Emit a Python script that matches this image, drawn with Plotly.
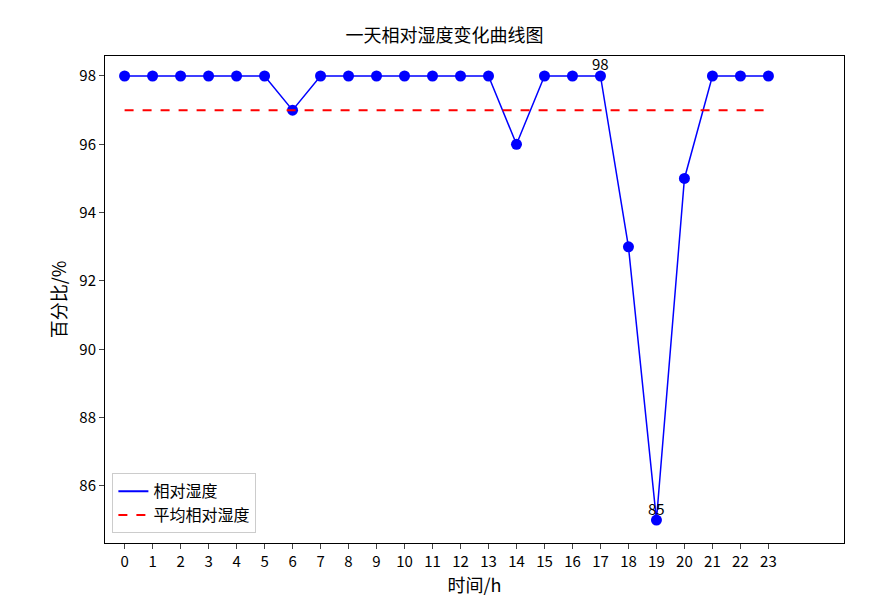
import plotly.graph_objects as go

hours = list(range(24))
humidity = [98, 98, 98, 98, 98, 98, 97, 98, 98, 98, 98, 98,
            98, 98, 96, 98, 98, 98, 93, 85, 95, 98, 98, 98]
mean_h = sum(humidity) / len(humidity)
font = 'Noto Sans CJK SC'

fig = go.Figure()
fig.add_trace(go.Scatter(x=hours, y=humidity, mode='lines+markers', showlegend=False,
                         line=dict(color='blue', width=1.5),
                         marker=dict(color='blue', size=11)))
# legend entry drawn as a plain line, like the original
fig.add_trace(go.Scatter(x=[None], y=[None], mode='lines', name='相对湿度',
                         line=dict(color='blue', width=2)))
fig.add_trace(go.Scatter(x=hours, y=[mean_h] * len(hours), mode='lines', name='平均相对湿度',
                         line=dict(color='red', width=2, dash='dash')))
for i in (17, humidity.index(min(humidity))):
    fig.add_annotation(x=hours[i], y=humidity[i], text=str(humidity[i]), showarrow=False,
                       yshift=12, font=dict(size=15, color='black', family=font))

fig.update_layout(
    width=873, height=616, plot_bgcolor='white', paper_bgcolor='white',
    margin=dict(l=97, r=37, t=48, b=81),
    font=dict(family=font, size=15, color='black'),
    title=dict(text='一天相对湿度变化曲线图', x=0.5, xanchor='center', y=0.965, font=dict(size=18)),
    xaxis=dict(title=dict(text='时间/h', standoff=8), range=[-0.7, 25.7], tickmode='array',
               tickvals=hours, showgrid=False, zeroline=False, showline=True, mirror=True,
               linecolor='black', ticks='outside', ticklen=5),
    yaxis=dict(title=dict(text='百分比/%', standoff=8), range=[84.33, 98.585], dtick=2,
               showgrid=False, zeroline=False, showline=True, mirror=True,
               linecolor='black', ticks='outside', ticklen=5),
    legend=dict(x=0.01, y=0.02, xanchor='left', yanchor='bottom', bordercolor='#ccc',
                borderwidth=1, bgcolor='rgba(255,255,255,0.8)', font=dict(size=16)),
)
fig.write_html('out.html')
